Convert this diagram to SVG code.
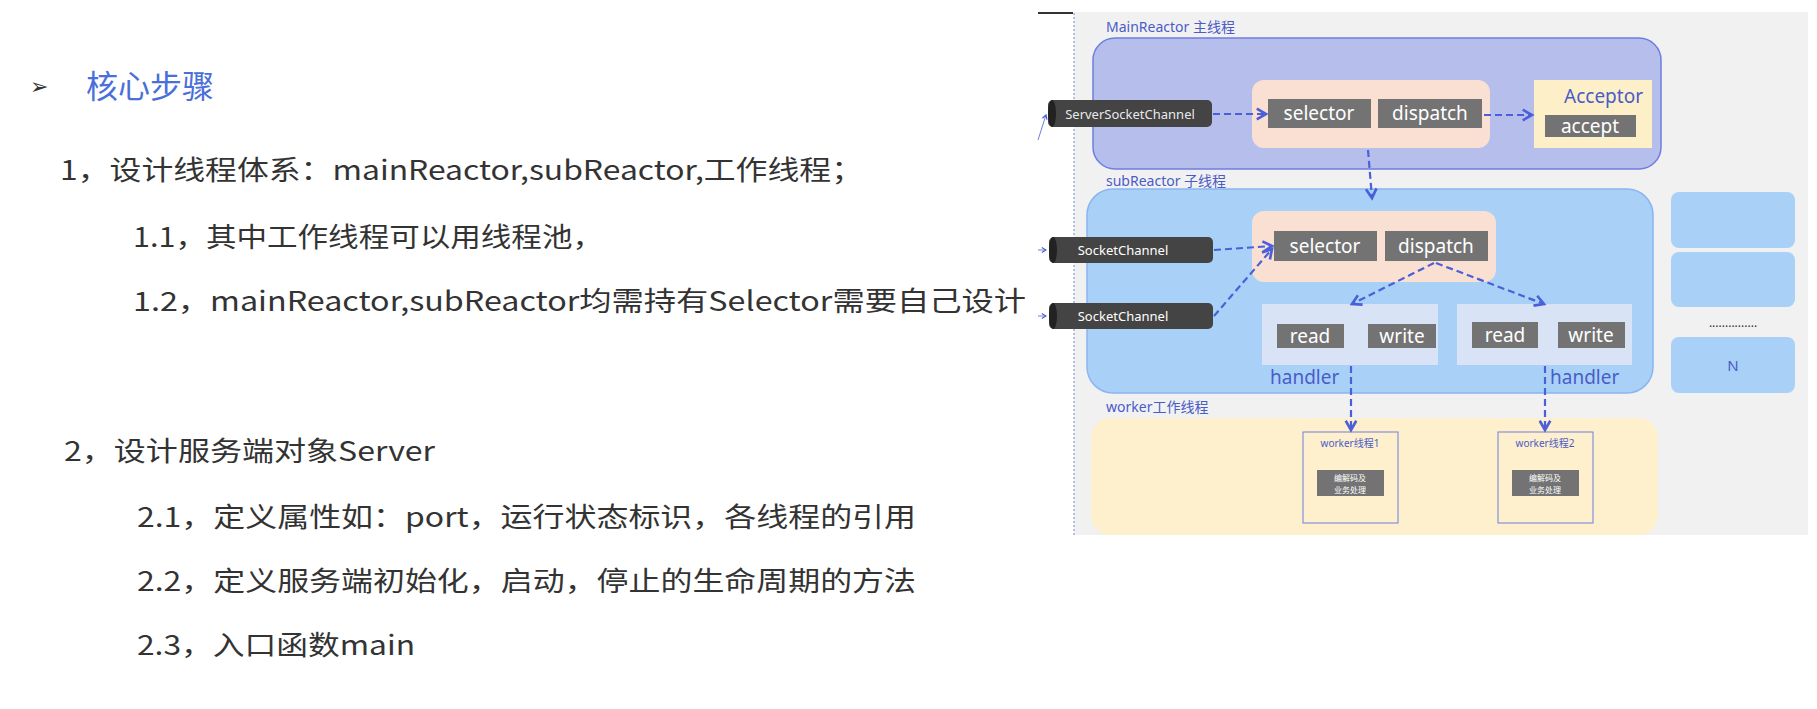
<svg xmlns="http://www.w3.org/2000/svg" width="1817" height="709" viewBox="0 0 1817 709">
<style>
.t{font-family:"Noto Sans CJK SC","Noto Sans",sans-serif;fill:#333;font-size:27px}
.lbl{font-family:"Noto Sans","Noto Sans CJK SC",sans-serif;fill:#4a5cc8}
.gb{fill:#737373}
.wt{font-family:"Noto Sans","Noto Sans CJK SC",sans-serif;fill:#fff;text-anchor:middle}
.cyl{fill:#444}
.ln{stroke:#4a5fd8;stroke-width:2.2;fill:none;stroke-dasharray:7 4}
</style>
<defs>
<marker id="ar" viewBox="0 0 10 10" refX="8" refY="5" markerWidth="6" markerHeight="6" orient="auto"><path d="M1,1 L8,5 L1,9" fill="none" stroke="#4a5fd8" stroke-width="2"/></marker>
</defs>
<rect width="1817" height="709" fill="#fff"/>
<g id="text">
<text x="30" y="94" style="font-family:'DejaVu Sans',sans-serif;font-size:22px;fill:#333">➢</text>
<text x="86" y="98" class="t" style="fill:#4a6fd9;font-size:32px">核心步骤</text>
<text x="60" y="180" class="t" textLength="803" lengthAdjust="spacingAndGlyphs">1，设计线程体系：mainReactor,subReactor,工作线程；</text>
<text x="133" y="247" class="t" textLength="470" lengthAdjust="spacingAndGlyphs">1.1，其中工作线程可以用线程池，</text>
<text x="133" y="311" class="t" textLength="893" lengthAdjust="spacingAndGlyphs">1.2，mainReactor,subReactor均需持有Selector需要自己设计</text>
<text x="64" y="461" class="t" textLength="371" lengthAdjust="spacingAndGlyphs">2，设计服务端对象Server</text>
<text x="137" y="527" class="t" textLength="779" lengthAdjust="spacingAndGlyphs">2.1，定义属性如：port，运行状态标识，各线程的引用</text>
<text x="137" y="591" class="t" textLength="779" lengthAdjust="spacingAndGlyphs">2.2，定义服务端初始化，启动，停止的生命周期的方法</text>
<text x="137" y="655" class="t" textLength="278" lengthAdjust="spacingAndGlyphs">2.3，入口函数main</text>
</g>
<g id="panel">
<rect x="1074" y="12" width="734" height="523" fill="#f1f1f1"/>
<line x1="1038" y1="13" x2="1073" y2="13" stroke="#333" stroke-width="2"/>
<line x1="1074" y1="13" x2="1074" y2="535" stroke="#7788cc" stroke-width="1" stroke-dasharray="2 2"/>
</g>
<g id="mainReactor">
<rect x="1093" y="38" width="568" height="131" rx="22" fill="#b6bfec" stroke="#6f7ee0" stroke-width="1.5"/>
<text x="1106" y="32" class="lbl" font-size="14">MainReactor 主线程</text>
</g>
<g id="subReactor">
<rect x="1087" y="189" width="566" height="204" rx="26" fill="#a9d1f7" stroke="#8bb5ef" stroke-width="1.5"/>
<text x="1106" y="186" class="lbl" font-size="14">subReactor 子线程</text>
</g>
<g id="worker">
<rect x="1091" y="418" width="567" height="117" rx="20" fill="#fef0cc"/>
<text x="1106" y="412" class="lbl" font-size="14">worker工作线程</text>
</g>
<g id="ssc">
<rect x="1048" y="100" width="164" height="27" rx="5" class="cyl"/>
<ellipse cx="1052" cy="113.5" rx="4" ry="13.5" fill="#222"/>
<text x="1130" y="119" class="wt" font-size="13" fill-opacity="0.9">ServerSocketChannel</text>
</g>
<g id="sel1">
<rect x="1252" y="80" width="238" height="68" rx="12" fill="#f9e0d2"/>
<rect x="1268" y="99" width="103" height="29" class="gb"/>
<text x="1319" y="120" class="wt" font-size="19">selector</text>
<rect x="1378" y="99" width="104" height="29" class="gb"/>
<text x="1430" y="120" class="wt" font-size="19">dispatch</text>
</g>
<g id="acceptor">
<rect x="1534" y="80" width="118" height="68" fill="#fdf0c8"/>
<text x="1643" y="103" class="lbl" font-size="19" text-anchor="end">Acceptor</text>
<rect x="1545" y="115" width="91" height="22" class="gb"/>
<text x="1590" y="133" class="wt" font-size="19">accept</text>
</g>
<g id="sc1">
<rect x="1049" y="237" width="164" height="26" rx="5" class="cyl"/>
<ellipse cx="1053" cy="250" rx="4" ry="13" fill="#222"/>
<text x="1123" y="255" class="wt" font-size="13">SocketChannel</text>
</g>
<g id="sc2">
<rect x="1049" y="303" width="164" height="26" rx="5" class="cyl"/>
<ellipse cx="1053" cy="316" rx="4" ry="13" fill="#222"/>
<text x="1123" y="321" class="wt" font-size="13">SocketChannel</text>
</g>
<g id="sel2">
<rect x="1252" y="211" width="244" height="71" rx="12" fill="#f9e0d2"/>
<rect x="1274" y="231" width="103" height="30" class="gb"/>
<text x="1325" y="253" class="wt" font-size="19">selector</text>
<rect x="1385" y="231" width="103" height="30" class="gb"/>
<text x="1436" y="253" class="wt" font-size="19">dispatch</text>
</g>
<g id="handler1">
<rect x="1262" y="304" width="176" height="61" fill="#d8e4f5"/>
<rect x="1277" y="324" width="67" height="24" class="gb"/>
<text x="1310" y="343" class="wt" font-size="19">read</text>
<rect x="1368" y="324" width="68" height="24" class="gb"/>
<text x="1402" y="343" class="wt" font-size="19">write</text>
<text x="1270" y="384" class="lbl" font-size="19">handler</text>
</g>
<g id="handler2">
<rect x="1457" y="304" width="175" height="61" fill="#d8e4f5"/>
<rect x="1472" y="322" width="66" height="26" class="gb"/>
<text x="1505" y="342" class="wt" font-size="19">read</text>
<rect x="1558" y="322" width="67" height="26" class="gb"/>
<text x="1591" y="342" class="wt" font-size="19">write</text>
<text x="1550" y="384" class="lbl" font-size="19">handler</text>
</g>
<g id="w1">
<rect x="1303" y="432" width="95" height="91" fill="#fef0cc" stroke="#6f7ee0" stroke-width="1"/>
<text x="1350" y="447" class="lbl" font-size="10" text-anchor="middle">worker线程1</text>
<rect x="1317" y="470" width="67" height="26" class="gb"/>
<text x="1350" y="481" class="wt" font-size="8">编解码及</text>
<text x="1350" y="493" class="wt" font-size="8">业务处理</text>
</g>
<g id="w2">
<rect x="1498" y="432" width="95" height="91" fill="#fef0cc" stroke="#6f7ee0" stroke-width="1"/>
<text x="1545" y="447" class="lbl" font-size="10" text-anchor="middle">worker线程2</text>
<rect x="1512" y="470" width="67" height="26" class="gb"/>
<text x="1545" y="481" class="wt" font-size="8">编解码及</text>
<text x="1545" y="493" class="wt" font-size="8">业务处理</text>
</g>
<g id="others">
<rect x="1671" y="192" width="124" height="56" rx="8" fill="#a9d1f7"/>
<rect x="1671" y="252" width="124" height="55" rx="8" fill="#a9d1f7"/>
<text x="1733" y="327" font-family="Noto Sans,sans-serif" font-size="12" fill="#333" text-anchor="middle">...............</text>
<rect x="1671" y="337" width="124" height="56" rx="8" fill="#a9d1f7"/>
<text x="1733" y="371" class="lbl" font-size="15" text-anchor="middle">N</text>
</g>
<g id="connectors">
<line x1="1213" y1="114" x2="1266" y2="114" class="ln" marker-end="url(#ar)"/>
<line x1="1484" y1="115" x2="1532" y2="115" class="ln" marker-end="url(#ar)"/>
<line x1="1368" y1="150" x2="1372" y2="198" class="ln" marker-end="url(#ar)"/>
<line x1="1214" y1="250" x2="1272" y2="246" class="ln" marker-end="url(#ar)"/>
<line x1="1214" y1="316" x2="1272" y2="249" class="ln" marker-end="url(#ar)"/>
<line x1="1434" y1="263" x2="1352" y2="304" class="ln" marker-end="url(#ar)"/>
<line x1="1436" y1="263" x2="1544" y2="304" class="ln" marker-end="url(#ar)"/>
<line x1="1351" y1="366" x2="1351" y2="430" class="ln" marker-end="url(#ar)"/>
<line x1="1545" y1="366" x2="1545" y2="430" class="ln" marker-end="url(#ar)"/>
<line x1="1038" y1="140" x2="1046" y2="115" stroke="#6f7ee0" stroke-width="1" marker-end="url(#ar)"/>
<line x1="1038" y1="250" x2="1046" y2="250" stroke="#6f7ee0" stroke-width="1" marker-end="url(#ar)"/>
<line x1="1038" y1="316" x2="1046" y2="316" stroke="#6f7ee0" stroke-width="1" marker-end="url(#ar)"/>
</g>
</svg>
